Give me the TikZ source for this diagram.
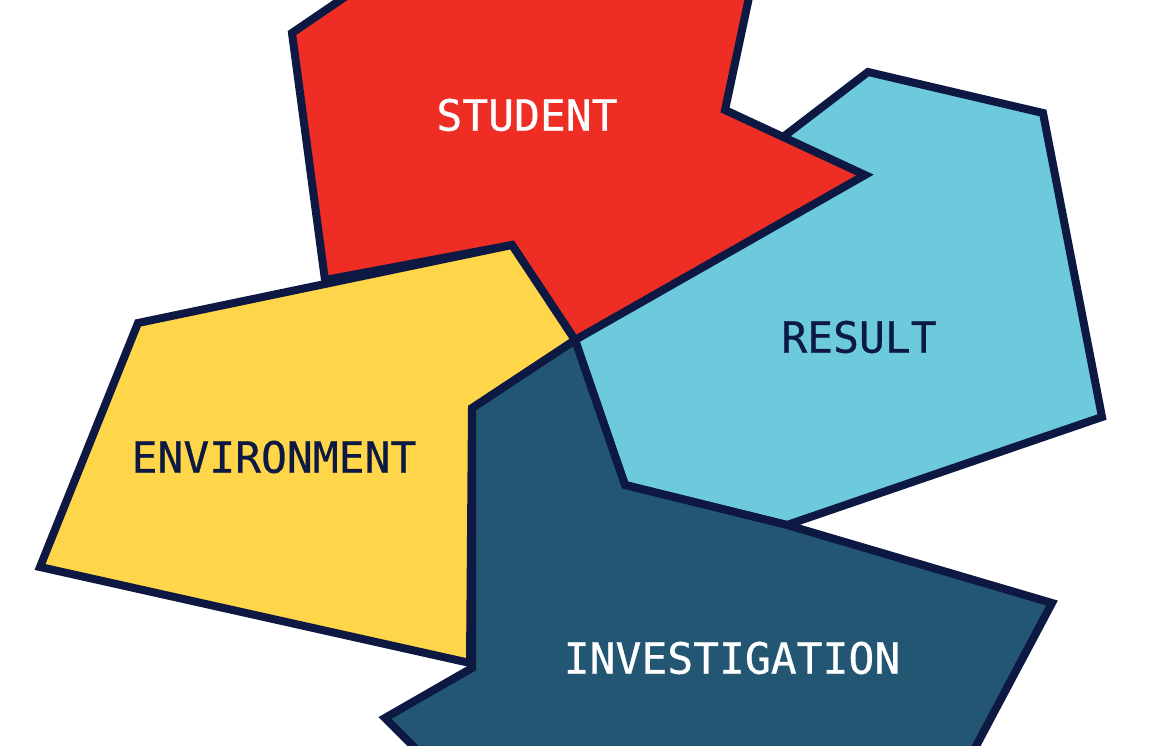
\documentclass[tikz,border=0pt]{standalone}
\usepackage{fontspec}
\newfontfamily\labelfont[FakeBold=0.6]{DejaVu Sans Mono}
\definecolor{navy}{HTML}{0D1942}
\definecolor{cred}{HTML}{EE2E24}
\definecolor{cyanblue}{HTML}{6DCADD}
\definecolor{deepblue}{HTML}{225672}
\definecolor{cyellow}{HTML}{FFD54A}
\tikzset{
  piece/.style={draw=navy, line width=8pt, line join=miter},
  lbl/.style={font=\labelfont\fontsize{43}{43}\selectfont, inner sep=0pt}
}
\begin{document}
\begin{tikzpicture}[x=1pt,y=-1pt]
\useasboundingbox (0,0) rectangle (1160,746);
\clip (0,0) rectangle (1160,746);
% light blue (RESULT)
\filldraw[piece, fill=cyanblue] (740,170) -- (868,72) -- (1043,113) -- (1102,417) -- (787,525) -- (625,485) -- (575,340) -- cycle;
% dark blue (INVESTIGATION)
\filldraw[piece, fill=deepblue] (575,340) -- (625,485) -- (787,525) -- (1052,603) -- (966,765) -- (432,765) -- (385,718) -- (472,668) -- (472,408) -- cycle;
% red (STUDENT)
\filldraw[piece, fill=cred] (292,33) -- (358,-12) -- (751,-12) -- (725,110) -- (865,175) -- (575,340) -- (512,245) -- (325,280) -- cycle;
% yellow (ENVIRONMENT)
\filldraw[piece, fill=cyellow] (138,323) -- (512,245) -- (575,340) -- (472,408) -- (470,663) -- (40,567) -- cycle;
% labels
\node[lbl, text=white] (student) at (527,115) {STUDENT};
\node[lbl, text=navy] (result) at (859,337) {RESULT};
\node[lbl, text=navy] (environment) at (274,457) {ENVIRONMENT};
\node[lbl, text=white] (investigation) at (732,658) {INVESTIGATION};
\end{tikzpicture}
\end{document}
